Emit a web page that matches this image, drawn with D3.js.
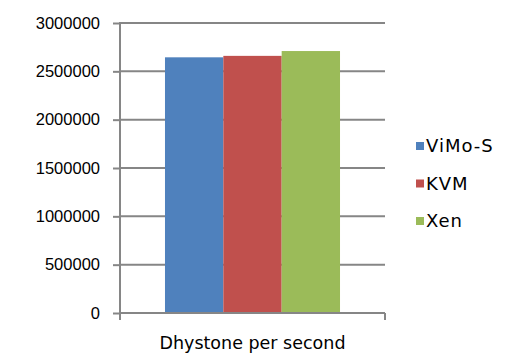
<!DOCTYPE html>
<html>
<head>
<meta charset="utf-8">
<script src="https://cdn.jsdelivr.net/npm/d3@7"></script>
<style>
  html, body { margin: 0; padding: 0; background: #fff; }
  svg { display: block; font-family: "DejaVu Sans", sans-serif; }
</style>
</head>
<body>
<svg id="chart" width="528" height="359"></svg>
<script>
// Dhrystone benchmark, one category, three hypervisors
const categories = ['Dhystone per second'];
const series = ['ViMo-S', 'KVM', 'Xen'];
const values = [2645000, 2660000, 2710000];
const colors = ['#4F81BD', '#C0504D', '#9BBB59'];
const yTicks = [0, 500000, 1000000, 1500000, 2000000, 2500000, 3000000];

const svg = d3.select('#chart');

const plotLeft = 120, plotRight = 385, plotTop = 23, plotBottom = 313;

const y = d3.scaleLinear()
    .domain([0, 3000000])
    .range([plotBottom, plotTop]);

const x0 = d3.scaleBand()
    .domain(categories)
    .range([plotLeft, plotRight])
    .paddingInner(0)
    .paddingOuter(0.257);

const x1 = d3.scaleBand()
    .domain(series)
    .range([0, x0.bandwidth()]);

// gridlines
svg.append('g')
    .selectAll('line')
    .data(yTicks.slice(1))
    .join('line')
    .attr('x1', plotLeft)
    .attr('x2', plotRight)
    .attr('y1', d => y(d))
    .attr('y2', d => y(d))
    .attr('stroke', '#868686')
    .attr('stroke-width', 2);

// bars
svg.append('g')
    .selectAll('rect')
    .data(series)
    .join('rect')
    .attr('x', d => x0(categories[0]) + x1(d))
    .attr('y', (d, i) => y(values[i]))
    .attr('width', x1.bandwidth())
    .attr('height', (d, i) => y(0) - y(values[i]))
    .attr('fill', (d, i) => colors[i]);

// y axis
const yAxis = d3.axisLeft(y)
    .tickValues(yTicks)
    .tickSize(7)
    .tickPadding(13)
    .tickFormat(d3.format('d'));

const gy = svg.append('g')
    .attr('transform', `translate(${plotLeft},0)`)
    .call(yAxis);
gy.select('.domain').remove();
gy.append('line')
    .attr('y1', plotTop - 1)
    .attr('y2', plotBottom)
    .attr('stroke', '#868686')
    .attr('stroke-width', 2);
gy.selectAll('.tick line')
    .attr('stroke', '#868686')
    .attr('stroke-width', 2);
gy.selectAll('.tick text')
    .attr('fill', '#000')
    .style('font-size', '16.5px');

// x axis
const gx = svg.append('g')
    .attr('transform', `translate(0,${plotBottom})`);
gx.append('line')
    .attr('x1', plotLeft)
    .attr('x2', plotRight)
    .attr('stroke', '#868686')
    .attr('stroke-width', 2);
gx.selectAll('.xt')
    .data([plotLeft, plotRight])
    .join('line')
    .attr('class', 'xt')
    .attr('x1', d => d)
    .attr('x2', d => d)
    .attr('y1', 0)
    .attr('y2', 7)
    .attr('stroke', '#868686')
    .attr('stroke-width', 2);
gx.selectAll('.xl')
    .data(categories)
    .join('text')
    .attr('class', 'xl')
    .attr('x', d => x0(d) + x0.bandwidth() / 2)
    .attr('y', 36)
    .attr('text-anchor', 'middle')
    .style('font-size', '17.5px')
    .attr('fill', '#000')
    .text(d => d);

// legend
const legend = svg.append('g')
    .selectAll('g')
    .data(series)
    .join('g')
    .attr('transform', (d, i) => `translate(416,${146 + i * 37.5})`);
legend.append('rect')
    .attr('x', 0)
    .attr('y', -4)
    .attr('width', 8)
    .attr('height', 8)
    .attr('fill', (d, i) => colors[i]);
legend.append('text')
    .attr('x', 10)
    .attr('y', 0)
    .attr('dy', '0.35em')
    .style('font-size', '18px')
    .style('letter-spacing', '1px')
    .attr('fill', '#000')
    .text(d => d);
</script>
</body>
</html>
